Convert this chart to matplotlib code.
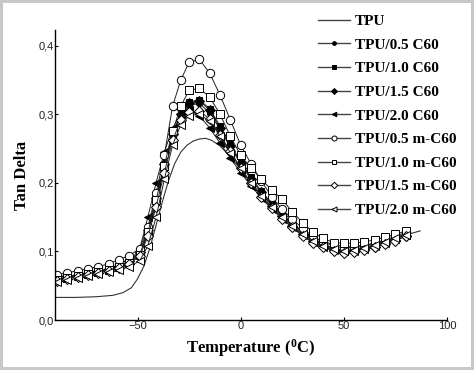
import matplotlib
matplotlib.use("Agg")
import matplotlib.pyplot as plt
from matplotlib.ticker import FuncFormatter

# temperatures (deg C) of the marked series
temps = [-89, -84, -79, -74, -69, -64, -59, -54, -49, -45, -41, -37, -33, -29, -25, -20,
         -15, -10, -5, 0, 5, 10, 15, 20, 25, 30, 35, 40, 45, 50, 55, 60, 65, 70, 75, 80]

# neat TPU (plain line)
tpu_t = [-90, -80, -70, -62, -57, -53, -50, -47, -44, -41, -38, -35, -32, -29, -26, -23,
         -20, -17, -14, -10, -5, 0, 5, 10, 20, 30, 40, 50, 60, 70, 80, 87]
tpu = [0.033, 0.033, 0.034, 0.036, 0.040, 0.047, 0.060, 0.078, 0.105, 0.138, 0.172, 0.203,
       0.228, 0.245, 0.255, 0.261, 0.264, 0.265, 0.262, 0.254, 0.238, 0.220, 0.200, 0.183,
       0.153, 0.129, 0.114, 0.107, 0.109, 0.116, 0.124, 0.130]

c05 = [0.060, 0.062, 0.065, 0.068, 0.071, 0.074, 0.079, 0.085, 0.097, 0.128, 0.172, 0.222,
       0.268, 0.298, 0.313, 0.316, 0.302, 0.278, 0.252, 0.228, 0.205, 0.186, 0.168, 0.153,
       0.140, 0.128, 0.118, 0.110, 0.104, 0.101, 0.102, 0.105, 0.109, 0.114, 0.119, 0.125]
c10 = [0.058, 0.061, 0.064, 0.067, 0.070, 0.073, 0.077, 0.083, 0.095, 0.125, 0.170, 0.222,
       0.270, 0.302, 0.318, 0.321, 0.308, 0.283, 0.256, 0.231, 0.208, 0.188, 0.170, 0.155,
       0.141, 0.129, 0.119, 0.111, 0.105, 0.102, 0.103, 0.106, 0.110, 0.115, 0.120, 0.126]
c15 = [0.062, 0.064, 0.066, 0.069, 0.072, 0.075, 0.079, 0.086, 0.099, 0.132, 0.178, 0.228,
       0.272, 0.300, 0.316, 0.320, 0.306, 0.280, 0.254, 0.229, 0.206, 0.186, 0.167, 0.151,
       0.137, 0.125, 0.115, 0.108, 0.102, 0.099, 0.100, 0.103, 0.107, 0.112, 0.117, 0.122]
c20 = [0.060, 0.062, 0.065, 0.068, 0.071, 0.074, 0.078, 0.086, 0.103, 0.150, 0.200, 0.245,
       0.280, 0.300, 0.306, 0.298, 0.280, 0.258, 0.236, 0.215, 0.196, 0.178, 0.162, 0.148,
       0.135, 0.124, 0.114, 0.107, 0.102, 0.100, 0.101, 0.104, 0.108, 0.113, 0.118, 0.124]
m05 = [0.066, 0.069, 0.072, 0.075, 0.078, 0.082, 0.088, 0.094, 0.104, 0.135, 0.185, 0.240,
       0.312, 0.350, 0.376, 0.380, 0.360, 0.328, 0.292, 0.255, 0.228, 0.203, 0.180, 0.162,
       0.147, 0.134, 0.122, 0.114, 0.108, 0.105, 0.106, 0.108, 0.112, 0.117, 0.122, 0.128]
m10 = [0.058, 0.061, 0.064, 0.067, 0.070, 0.073, 0.077, 0.083, 0.095, 0.128, 0.175, 0.225,
       0.275, 0.312, 0.335, 0.338, 0.325, 0.300, 0.268, 0.240, 0.222, 0.205, 0.190, 0.176,
       0.158, 0.142, 0.128, 0.119, 0.113, 0.112, 0.112, 0.114, 0.117, 0.121, 0.125, 0.130]
m15 = [0.057, 0.060, 0.063, 0.066, 0.069, 0.072, 0.076, 0.082, 0.093, 0.122, 0.165, 0.215,
       0.262, 0.292, 0.303, 0.305, 0.293, 0.270, 0.246, 0.222, 0.200, 0.180, 0.163, 0.148,
       0.135, 0.123, 0.113, 0.106, 0.100, 0.098, 0.099, 0.102, 0.106, 0.111, 0.116, 0.122]
m20 = [0.055, 0.058, 0.061, 0.064, 0.067, 0.070, 0.073, 0.078, 0.086, 0.108, 0.150, 0.205,
       0.255, 0.285, 0.298, 0.300, 0.290, 0.268, 0.244, 0.221, 0.200, 0.181, 0.165, 0.150,
       0.137, 0.126, 0.116, 0.108, 0.103, 0.101, 0.102, 0.105, 0.109, 0.114, 0.119, 0.124]

series = [
    ("TPU/0.5 C60", c05, "o", "black", 4.5),
    ("TPU/1.0 C60", c10, "s", "black", 4.5),
    ("TPU/1.5 C60", c15, "D", "black", 5.0),
    ("TPU/2.0 C60", c20, "<", "black", 5.5),
    ("TPU/0.5 m-C60", m05, "o", "white", 6.0),
    ("TPU/1.0 m-C60", m10, "s", "white", 5.5),
    ("TPU/1.5 m-C60", m15, "D", "white", 5.5),
    ("TPU/2.0 m-C60", m20, "<", "white", 6.0),
]

serif = "Liberation Serif"

fig = plt.figure(figsize=(4.74, 3.70), dpi=100)
fig.patch.set_edgecolor("#c8c8c8")
fig.patch.set_linewidth(3)
ax = fig.add_axes([0.116, 0.135, 0.827, 0.784])

ax.plot(tpu_t, tpu, color="#333333", lw=0.8, label="TPU")
for name, vals, mk, fc, ms in series:
    ax.plot(temps, vals, color="#222222", lw=0.7, marker=mk, markersize=ms,
            markerfacecolor=fc, markeredgecolor="black", markeredgewidth=0.7,
            label=name)

ax.set_xlim(-90, 100)
ax.set_ylim(0, 0.423)
ax.set_xticks([-50, 0, 50, 100])
ax.set_yticks([0.0, 0.1, 0.2, 0.3, 0.4])
ax.yaxis.set_major_formatter(FuncFormatter(lambda v, p: f"{v:.1f}".replace(".", ",")))
ax.tick_params(direction="in", length=2, width=0.8, labelsize=8, pad=1,
               labelfontfamily="Liberation Sans", labelcolor="#222222")
for s in ["top", "right"]:
    ax.spines[s].set_visible(False)
for s in ["left", "bottom"]:
    ax.spines[s].set_linewidth(1.0)

ax.set_xlabel("Temperature ($\\mathregular{^0}$C)", fontfamily=serif, fontweight="bold",
              fontsize=12, labelpad=4)
ax.set_ylabel("Tan Delta", fontfamily=serif, fontweight="bold", fontsize=12, labelpad=6)

leg = fig.legend(loc="upper left", bbox_to_anchor=(0.671, 0.961), frameon=False,
                 prop={"family": serif, "weight": "bold", "size": 11},
                 handlelength=2.1, handletextpad=0.33, labelspacing=0.65,
                 borderpad=0, borderaxespad=0, markerscale=0.6)
for line in leg.get_lines():
    line.set_color("#444444")
    line.set_linewidth(1.0)

fig.savefig("out.png", dpi=100)
